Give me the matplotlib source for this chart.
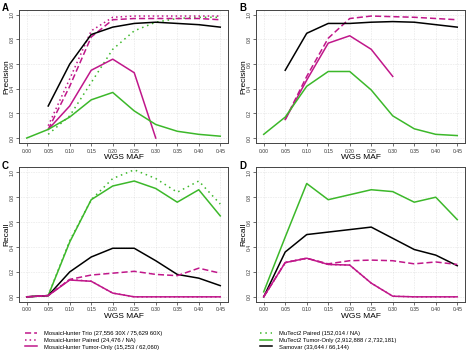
import matplotlib.pyplot as plt
import numpy as np

plt.rcParams['font.family'] = ['Liberation Sans', 'DejaVu Sans']

maf = [0.00, 0.05, 0.10, 0.15, 0.20, 0.25, 0.30, 0.35, 0.40, 0.45]
nan = np.nan

# Precision, panel A
a_trio = [nan, 0.07, 0.42, 0.82, 0.96, 0.97, 0.97, 0.97, 0.97, 0.96]
a_paired = [nan, 0.10, 0.48, 0.87, 0.98, 0.99, 0.99, 0.99, 0.99, 0.99]
a_tonly = [nan, 0.07, 0.26, 0.55, 0.64, 0.53, 0.0, nan, nan, nan]
a_mt_paired = [nan, 0.03, 0.18, 0.45, 0.72, 0.87, 0.94, 0.97, 0.98, 0.98]
a_mt_tonly = [0.0, 0.07, 0.17, 0.31, 0.37, 0.22, 0.11, 0.055, 0.03, 0.015]
a_samovar = [nan, 0.26, 0.60, 0.84, 0.90, 0.93, 0.94, 0.93, 0.92, 0.90]

# Precision, panel B
b_trio = [nan, 0.15, 0.50, 0.81, 0.97, 0.99, 0.985, 0.98, 0.97, 0.96]
b_tonly = [nan, 0.15, 0.47, 0.77, 0.83, 0.72, 0.50, nan, nan, nan]
b_mt_tonly = [0.03, 0.17, 0.42, 0.54, 0.54, 0.39, 0.18, 0.075, 0.03, 0.02]
b_samovar = [nan, 0.55, 0.85, 0.93, 0.93, 0.94, 0.945, 0.94, 0.92, 0.90]

# Recall, panel C
c_trio = [0.0, 0.01, 0.14, 0.175, 0.19, 0.205, 0.18, 0.17, 0.23, 0.19]
c_paired = [0.0, 0.01, 0.14, 0.125, 0.03, 0.0, 0.0, 0.0, 0.0, 0.0]
c_tonly = [0.0, 0.01, 0.135, 0.125, 0.03, 0.0, 0.0, 0.0, 0.0, 0.0]
c_mt_paired = [0.0, 0.01, 0.45, 0.78, 0.95, 1.02, 0.95, 0.84, 0.93, 0.745]
c_mt_tonly = [0.0, 0.01, 0.44, 0.78, 0.89, 0.93, 0.87, 0.76, 0.86, 0.65]
c_samovar = [0.0, 0.01, 0.20, 0.32, 0.39, 0.39, 0.29, 0.18, 0.15, 0.09]

# Recall, panel D
d_trio = [0.0, 0.275, 0.31, 0.265, 0.29, 0.295, 0.29, 0.265, 0.28, 0.26]
d_paired = [0.0, 0.275, 0.31, 0.26, 0.255, 0.11, 0.005, 0.0, 0.0, 0.0]
d_tonly = [0.0, 0.275, 0.31, 0.26, 0.255, 0.11, 0.005, 0.0, 0.0, 0.0]
d_mt_tonly = [0.04, 0.48, 0.91, 0.78, 0.82, 0.86, 0.845, 0.76, 0.80, 0.62]
d_samovar = [0.0, 0.36, 0.50, 0.52, 0.54, 0.56, 0.47, 0.38, 0.335, 0.25]

labels = {
    'trio': 'MosaicHunter Trio (27,556 30X / 75,629 60X)',
    'paired': 'MosaicHunter Paired (24,476 / NA)',
    'tonly': 'MosaicHunter Tumor-Only (15,253 / 62,060)',
    'mt_paired': 'MuTect2 Paired (152,014 / NA)',
    'mt_tonly': 'MuTect2 Tumor-Only (2,912,888 / 2,732,181)',
    'samovar': 'Samovar (33,644 / 66,144)',
}

MAG = '#c0178a'
GRN = '#3cb82a'
styles = {
    'trio': dict(color=MAG, linestyle=(0, (4, 2))),
    'paired': dict(color=MAG, linestyle=(0, (1, 2))),
    'tonly': dict(color=MAG, linestyle='-'),
    'mt_paired': dict(color=GRN, linestyle=(0, (1, 2.5))),
    'mt_tonly': dict(color=GRN, linestyle='-'),
    'samovar': dict(color='black', linestyle='-'),
}

panels = [
    ('A', 'Precision', [0.040, 0.595, 0.441, 0.377],
     [('mt_paired', a_mt_paired), ('paired', a_paired), ('trio', a_trio),
      ('tonly', a_tonly), ('mt_tonly', a_mt_tonly), ('samovar', a_samovar)]),
    ('B', 'Precision', [0.540, 0.595, 0.441, 0.377],
     [('trio', b_trio), ('tonly', b_tonly), ('mt_tonly', b_mt_tonly),
      ('samovar', b_samovar)]),
    ('C', 'Recall', [0.040, 0.145, 0.441, 0.381],
     [('mt_paired', c_mt_paired), ('mt_tonly', c_mt_tonly), ('samovar', c_samovar),
      ('trio', c_trio), ('paired', c_paired), ('tonly', c_tonly)]),
    ('D', 'Recall', [0.540, 0.145, 0.441, 0.381],
     [('mt_tonly', d_mt_tonly), ('samovar', d_samovar), ('trio', d_trio),
      ('paired', d_paired), ('tonly', d_tonly)]),
]

fig = plt.figure(figsize=(4.74, 3.53), dpi=100)

for letter, ylab, rect, series in panels:
    ax = fig.add_axes(rect)
    for key, vals in series:
        ax.plot(maf, vals, linewidth=1.1, **styles[key])
    ax.set_xlim(-0.018, 0.468)
    ax.set_ylim(-0.04, 1.04)
    ax.set_xticks(maf)
    ax.set_xticklabels(['%.2f' % m for m in maf], fontsize=3.6)
    ax.set_yticks([0, 0.2, 0.4, 0.6, 0.8, 1.0])
    ax.set_yticklabels(['0.0', '0.2', '0.4', '0.6', '0.8', '1.0'], fontsize=3.6,
                       rotation=90, va='center')
    ax.tick_params(length=2, width=0.5, colors='#333333')
    ax.tick_params(axis='x', pad=2)
    ax.tick_params(axis='y', pad=1)
    ax.grid(True, linestyle=(0, (1, 2)), linewidth=0.4, color='#cccccc')
    for s in ax.spines.values():
        s.set_linewidth(0.7)
        s.set_color('#444444')
    ax.set_xlabel('WGS MAF', fontsize=6, labelpad=0.5)
    ax.set_ylabel(ylab, fontsize=6)
    ax.yaxis.set_label_coords(-0.042, 0.5)
    fig.text(rect[0] - 0.036, rect[1] + rect[3] + 0.004, letter,
             fontsize=7, fontweight='bold', va='center')

h = {}
for key in styles:
    h[key], = plt.plot([], [], linewidth=1.1, **styles[key])

leg_kw = dict(loc='upper left', frameon=False, fontsize=4.2, handlelength=2.0,
              labelspacing=0.3, borderpad=0, handletextpad=1.3,
              borderaxespad=0)
fig.legend([h['trio'], h['paired'], h['tonly']],
           [labels['trio'], labels['paired'], labels['tonly']],
           bbox_to_anchor=(0.053, 0.063), **leg_kw)
fig.legend([h['mt_paired'], h['mt_tonly'], h['samovar']],
           [labels['mt_paired'], labels['mt_tonly'], labels['samovar']],
           bbox_to_anchor=(0.549, 0.063), **leg_kw)

fig.savefig('out.png', dpi=100)
